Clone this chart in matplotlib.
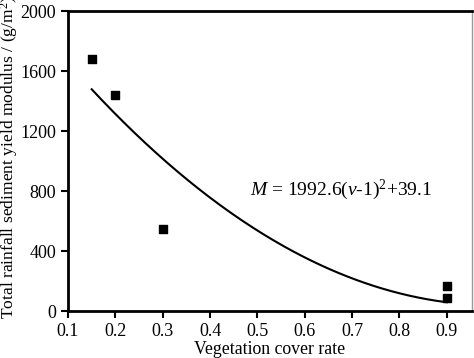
import matplotlib
matplotlib.use("Agg")
import matplotlib.pyplot as plt
import numpy as np

plt.rcParams['font.family'] = ['Liberation Serif', 'DejaVu Serif']
plt.rcParams['mathtext.fontset'] = 'custom'
plt.rcParams['mathtext.rm'] = 'Liberation Serif'
plt.rcParams['mathtext.it'] = 'Liberation Serif:italic'

# observed points
cover_rate = [0.15, 0.2, 0.3, 0.9, 0.9]
sediment = [1680, 1440, 545, 170, 90]

# fitted curve M = a*(v-1)^2 + b, drawn between first and last cover rate
fit_a = 1992.6
fit_b = 39.1
fit_range = [0.15, 0.9]

xticks = [0.1, 0.2, 0.3, 0.4, 0.5, 0.6, 0.7, 0.8, 0.9]
yticks = [0, 400, 800, 1200, 1600, 2000]

fig = plt.figure(figsize=(4.74, 3.58), dpi=100)
ax = fig.add_axes([0.1435, 0.131, 0.852, 0.838])

v = np.linspace(fit_range[0], fit_range[1], 200)
ax.plot(v, fit_a * (v - 1) ** 2 + fit_b, color='black', linewidth=1.5)
ax.scatter(cover_rate, sediment, marker='s', s=30, color='black', zorder=3)

ax.set_xlim(0.1, 0.953)
ax.set_ylim(0, 2000)
ax.set_xticks(xticks)
ax.set_yticks(yticks)
ax.tick_params(axis='both', direction='out', length=5, width=1.5, labelsize=13,
               top=False, right=False)

for side in ['left', 'bottom', 'top']:
    ax.spines[side].set_linewidth(2)
ax.spines['right'].set_color('#999999')
ax.spines['right'].set_linewidth(1)

ax.set_xlabel('Vegetation cover rate', fontsize=12.8, labelpad=1)
ax.set_ylabel('Total rainfall sediment yield modulus / (g/m$^2$)', fontsize=12.6)
ax.yaxis.set_label_coords(-0.118, 0.513)

ax.text(0.485, 807, r'$M$ = 1992.6($v$-1)$^2$+39.1', fontsize=14, va='center', ha='left')

fig.savefig('out.png', dpi=100)
